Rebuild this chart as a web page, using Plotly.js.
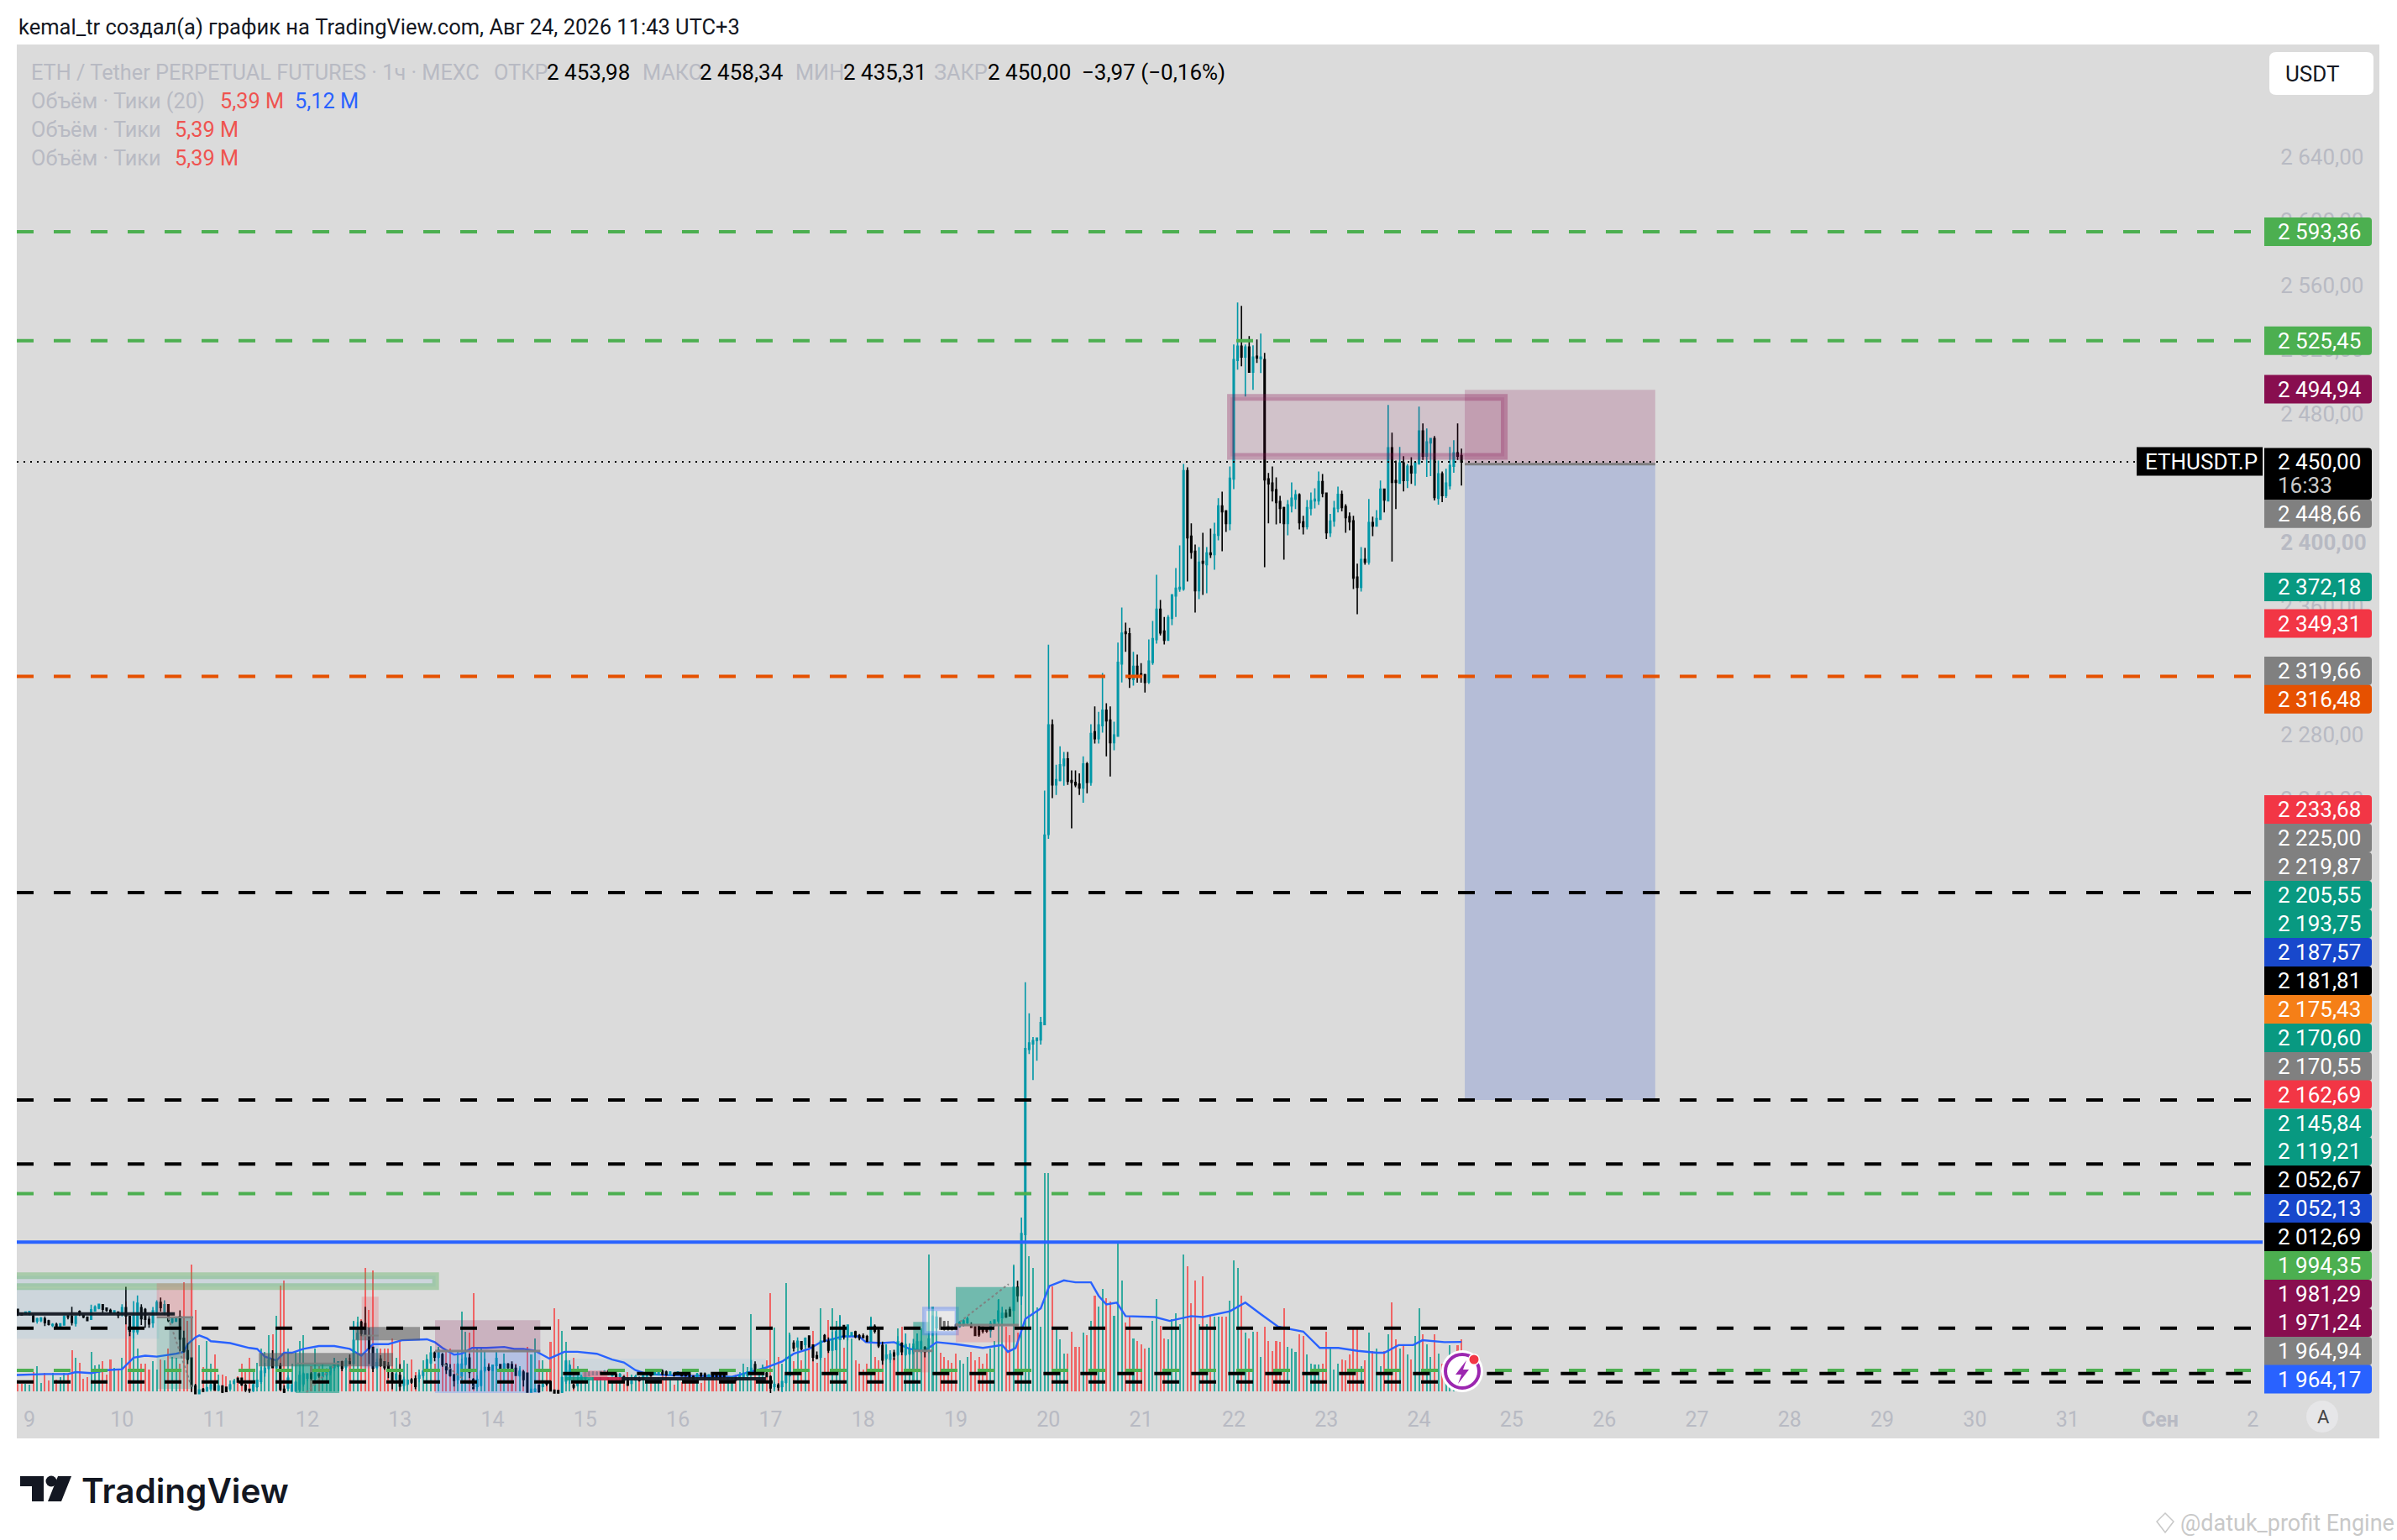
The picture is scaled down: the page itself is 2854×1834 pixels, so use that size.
<!DOCTYPE html>
<html><head><meta charset="utf-8">
<script src="https://cdn.plot.ly/plotly-3.0.1.min.js"></script>
<style>html,body{margin:0;padding:0;background:#fff}#c{width:2854px;height:1834px}</style>
</head><body><div id="c"></div>
<script>
// hourly candles, first one is Aug 8 21:00; day numbers on the x axis (Aug 9 = 9, Sep 1 = 32)
const firstHour = -3;
const opens = [1922.3,1919.9,1919.2,1919.2,1918.1,1915,1915.3,1916.4,1915,1912.2,
1912.9,1911.5,1912.5,1918.1,1917.8,1913.6,1920.9,1918.5,1917.4,1916,
1921.3,1923,1925.1,1923,1921.6,1919.9,1920.6,1919.2,1923.3,1917.8,
1908.3,1908.3,1923.3,1922.1,1916,1913.9,1920.9,1926.5,1920.9,1925.1,
1914.3,1915,1917.8,1904.2,1896.5,1891.9,1874.5,1869.8,1872.4,1871.4,
1872.8,1877.6,1872,1874.5,1873.8,1872.8,1876.2,1879.4,1879.4,1874.9,
1872.4,1871.7,1874.2,1877.3,1882.9,1885.5,1891.2,1886,1887.2,1872.4,
1873.3,1871.5,1871.5,1872.4,1875.9,1879.4,1882,1879.4,1882,1880.3,
1881.5,1882.9,1886,1886.7,1889.5,1886.4,1889.5,1888.5,1903.8,1914.3,
1913.4,1905.9,1898.6,1886.4,1891.2,1889.5,1887.2,1882.5,1879,1881.1,
1875,1875.9,1878.3,1879,1879.4,1881.1,1885.5,1889,1895.1,1892.5,
1894.2,1888.1,1885,1881.5,1878.5,1881.1,1888.1,1891.9,1878.5,1874.2,
1875,1884.3,1886,1884.3,1887.2,1887.8,1884.6,1888.1,1887.8,1885.5,
1881.1,1883.2,1882.5,1870.7,1871,1875,1874.2,1877.3,1877.3,1871.9,
1871.7,1870.7,1877.6,1880.3,1875,1875,1877.6,1879.4,1881.1,1881.5,
1881.5,1882.2,1882.4,1883.7,1881.1,1881.8,1880.4,1880.3,1879.4,1876.2,
1878.3,1879.4,1879.7,1880.6,1882.2,1881.5,1881.8,1883.7,1883.2,1881.5,
1882.5,1881.5,1882.5,1882.5,1881.8,1880.4,1880.4,1882.4,1882,1879.7,
1881.5,1881.8,1881.8,1881.8,1878.9,1879,1879.7,1879.4,1880.3,1881.1,
1882,1887.8,1882.5,1882.5,1882.5,1880.3,1874.2,1875,1874.2,1876.8,
1881.1,1901.2,1898.9,1902.1,1900.3,1905.6,1900,1893.3,1892.5,1905.9,
1902.4,1896.8,1897.2,1903.5,1912.2,1905.9,1905.9,1908.3,1905.9,1905.6,
1905.2,1902.4,1911.7,1909,1899.8,1891.9,1891.2,1895,1894.2,1901.1,
1894.2,1894.7,1895.9,1897.7,1896.8,1898.5,1898.5,1909,1910.8,1916.9,
1914.6,1911.6,1911.1,1912.5,1911.6,1912.5,1913.9,1912.5,1911.4,1911.6,
1911.1,1910.8,1909,1912.5,1915.1,1916.9,1919.8,1922.1,1921.6,1936,
1930.8,1968.9,2084.1,2087.6,2089.6,2090.1,2099.6,2218,2286.2,2248.9,
2251.6,2260.9,2265.1,2251.6,2250.4,2249.4,2246.9,2261.9,2250.4,2281.9,
2277.6,2285.7,2295.4,2289.2,2275.1,2279.2,2324.2,2344.1,2343,2314.5,
2322.7,2318,2317.5,2313,2325.1,2339.4,2358.2,2344.6,2338.9,2352.5,
2366.6,2370.8,2370.8,2444.6,2403.8,2394.4,2369.8,2388.1,2386,2393.3,
2392.3,2404.3,2422.6,2419.5,2411.7,2439.4,2513.2,2522.1,2515.3,2521.6,
2505.9,2515.8,2514.3,2513.7,2439.4,2436.8,2432.6,2425.3,2421.6,2411.7,
2422.6,2426.8,2429.5,2412.7,2409.7,2421.1,2425.8,2425.8,2437.8,2430.5,
2405.9,2413.2,2421.1,2429.8,2422.2,2415.9,2413.3,2378.2,2371.9,2389.2,
2387.6,2412.2,2410.1,2414.3,2433.1,2425.8,2458.8,2438.4,2436.8,2449.4,
2438.4,2447.3,2443.1,2448.8,2469.3,2453.6,2461.9,2464.5,2427.4,2442.6,
2429,2435.2,2447.3,2455.6,2453.98];
const highs = [1922.3,1920.2,1920.9,1921.3,1919.2,1917.1,1917.4,1917.8,1915.7,1913.6,
1913.9,1913.2,1918.5,1918.8,1923.9,1918.5,1921.6,1918.8,1917.8,1925.1,
1924.8,1925.8,1925.4,1923.3,1922.7,1921.3,1920.6,1925.4,1936.3,1918.1,
1927.4,1930.9,1925.4,1923,1918.1,1923.7,1927.9,1929.6,1927.9,1925.4,
1916.9,1917.4,1921.6,1909,1901.2,1891.9,1875.9,1872.4,1873.3,1874.2,
1875.9,1878,1875,1874.5,1874.2,1875.9,1878,1879.7,1879.7,1875.9,
1872.8,1875.9,1878.5,1886.4,1889,1894.2,1896.8,1891.6,1889,1875,
1881.1,1875.9,1877.6,1883.7,1882.9,1882.5,1883.2,1885.5,1882.5,1884.6,
1885.5,1886.4,1891.9,1889.9,1890.2,1891.6,1894.2,1914.3,1914.3,1915.2,
1923.9,1910.8,1898.6,1891.6,1893.7,1889.9,1889.5,1884.6,1882.9,1888.1,
1880.3,1878.5,1879.4,1881.1,1882.9,1884.6,1891.6,1899.4,1896,1897.7,
1895.1,1889,1888.1,1882,1889,1891.6,1897.2,1894.7,1879.4,1881.1,
1884.6,1891.6,1888.1,1887.8,1895.1,1888.1,1889,1888.8,1889.9,1887.8,
1885.5,1884.3,1882.9,1872.4,1873.3,1875,1875.9,1877.3,1877.6,1872.1,
1872.1,1880.3,1890.7,1888.1,1875.9,1877.6,1881.1,1883.7,1883.7,1883.7,
1883.7,1883.7,1884.3,1884.9,1883.7,1882,1882,1880.8,1879.7,1879.4,
1881.1,1880.3,1882,1883.2,1882.5,1883.7,1883.7,1884.9,1884.1,1883.7,
1882.9,1883.7,1882.9,1882.9,1882.5,1881.1,1882.5,1882.9,1882.9,1881.8,
1882,1882.5,1882.9,1882.5,1880.3,1880.3,1879.9,1881.5,1882.9,1883.7,
1890.7,1889.9,1885,1887.2,1885,1881.1,1876.8,1876.2,1877.6,1892.5,
1906.4,1902.9,1904.7,1902.4,1904.7,1905.9,1900,1896,1902.9,1906.9,
1904.7,1908.2,1911.7,1918.1,1912.5,1912.9,1908.2,1909,1906.9,1907.3,
1906.3,1916.9,1912.9,1909.9,1902.1,1900.3,1896.8,1897.1,1905.5,1901.7,
1907.3,1901.1,1903.8,1907.3,1902.9,1899.4,1909,1918.6,1921.2,1916.9,
1915.1,1915.1,1911.6,1913.4,1915.1,1916,1917.7,1914.2,1911.6,1912.5,
1911.6,1910.8,1915.1,1916,1928.2,1923.8,1922.1,1923.8,1949.1,1940,
1979.4,2125.9,2106.6,2091.9,2091.4,2104.4,2245.3,2336.2,2289.7,2261.4,
2272.9,2269.4,2269.4,2257.9,2257.9,2256.1,2266.6,2263.1,2286.7,2297.7,
2294.4,2318.5,2299.7,2297.7,2288.2,2337.5,2359.3,2349.9,2346.7,2331.7,
2330,2324.7,2318,2339.5,2350.9,2379.7,2364,2353.5,2354.6,2367.7,
2383.9,2398,2448.8,2446.7,2411.7,2398.6,2397,2405.9,2397,2408.5,
2412.2,2427.4,2431.5,2420,2447.2,2523.2,2549.3,2547.2,2523.2,2528.4,
2522.6,2526.3,2530,2517.9,2443.1,2447.2,2440.4,2428.9,2422.1,2426.3,
2437.3,2432.6,2430.5,2416.4,2426.3,2431,2433.6,2444.1,2442.5,2431,
2417.6,2425.8,2434.7,2432.1,2423.7,2418.5,2416.4,2386.6,2397,2396.5,
2426.9,2415.9,2420,2438.4,2433.1,2485.5,2468.2,2450.9,2459.3,2453.6,
2448.8,2453,2449.4,2484.4,2474,2470.8,2465,2466.1,2450.9,2444.1,
2445.7,2459.3,2463.5,2474,2458.34];
const lows = [1918.1,1918.5,1918.9,1918.5,1914.3,1913.4,1914.3,1911.8,1912.2,1911.1,
1911.5,1911.5,1912.2,1916,1912.2,1911.5,1918.1,1916.7,1915,1915.7,
1921.3,1922.3,1920.2,1920.9,1919.5,1919.5,1916.7,1917.8,1912.9,1905.6,
1904.2,1906.4,1912.5,1910.8,1910.8,1910.8,1918.6,1920.9,1918.6,1914.3,
1913.4,1914.3,1895.1,1895.4,1888.1,1870.7,1869.8,1869.8,1870.7,1871,
1872.4,1871.5,1871.5,1870.1,1870.7,1872.4,1875.9,1876.6,1874.5,1870.7,
1870.3,1870.7,1873.3,1875.9,1880.3,1884.6,1886,1884.6,1871.5,1870.1,
1872.4,1870.7,1870.7,1870.7,1874.2,1877.6,1878,1877.6,1879.7,1879.4,
1880.3,1881.1,1883.7,1885.5,1883.7,1884.6,1888.1,1888.1,1903.8,1905.6,
1905.9,1888.1,1883.2,1885,1886.4,1884.6,1879.4,1872.4,1877.6,1871.5,
1872.4,1875,1875.9,1872.4,1876.8,1879.4,1884.6,1888.1,1889.9,1891.6,
1886.4,1882,1880.3,1874.2,1875.9,1878.5,1887.2,1879.4,1872.4,1872.4,
1874.2,1882.9,1883.7,1883.7,1884.6,1884.6,1884.6,1884.6,1884.6,1881.1,
1880.3,1874.2,1870.7,1870.7,1871,1870.3,1874.2,1874.5,1871.2,1870.1,
1870.1,1870.1,1875.9,1875.9,1872.4,1874.2,1875.9,1878.5,1880.3,1881.1,
1881.1,1882,1882,1881.5,1880.3,1879.7,1880.3,1877.6,1874.9,1875.9,
1877.6,1877.3,1879.4,1880.3,1880.3,1881.1,1881.1,1881.1,1880.8,1881.1,
1880.3,1881.1,1880.3,1880.3,1879.4,1878.5,1880.3,1879.7,1879.4,1879.4,
1879.7,1879.4,1879.7,1879.7,1878.5,1879,1877.6,1879,1879.7,1880.3,
1881.1,1882,1882,1882,1880.3,1870.1,1872.4,1871.5,1870.7,1875.9,
1880.3,1896,1898.6,1896.8,1898.9,1898.6,1889.9,1891.2,1890.7,1901.7,
1895.1,1896.8,1896.8,1903,1903.5,1902.9,1905.6,1904.2,1902.9,1904.2,
1901.7,1902.4,1907.3,1898.2,1887.8,1890.7,1888.9,1890.7,1893.3,1893.6,
1893.3,1893.6,1894.2,1896.8,1895,1892.4,1895,1905.5,1909,1909.9,
1909,1909,1909,1909.9,1910.8,1911.6,1912.5,1910.8,1905.5,1905.2,
1907.3,1907.6,1904.6,1911.6,1914.2,1916.3,1916.9,1917.7,1921.2,1926.8,
1925,1964.4,2081.3,2065,2077.1,2087.1,2099.6,2215.3,2240.6,2242.6,
2251.1,2248.4,2248.9,2221.8,2247.4,2242.6,2237.8,2243.6,2248.4,2274.6,
2274.6,2281.4,2266.6,2254.1,2270.4,2279.2,2312.7,2331.7,2309.2,2310.7,
2312.5,2312.5,2306.4,2311.7,2323.7,2336.8,2342,2336.3,2338.9,2348.3,
2353.5,2369.2,2369.8,2375.5,2389.7,2356.2,2364.5,2367.2,2368.2,2390.2,
2382.9,2401.2,2394.4,2406.4,2407.5,2433.1,2507.5,2509.5,2490.7,2505.9,
2494.9,2511.6,2505.4,2384.4,2411.7,2425.3,2411.1,2411.7,2389.1,2404.3,
2418.5,2420.6,2408,2404.8,2408,2416.7,2421.1,2423.2,2428,2401.9,
2403.3,2409.7,2418.5,2419.2,2405.9,2407.5,2370.9,2355.2,2369.3,2386,
2386,2403.8,2410.1,2414.3,2418.5,2425.8,2388,2420.6,2436.8,2431.6,
2433.7,2436.3,2435.2,2448.8,2451.3,2440.6,2441.2,2426,2423.4,2424.9,
2427.6,2432.8,2443.3,2451.3,2435.31];
const closes = [1919.9,1918.8,1920.6,1920.9,1914.6,1916.4,1916.7,1913.9,1912.9,1912.9,
1911.8,1913.2,1917.8,1917.4,1914,1918.1,1919.5,1917.4,1915.3,1922,
1923.7,1925.4,1922.3,1921.6,1920.2,1921.3,1918.5,1923.3,1918.1,1908.7,
1918.5,1926.1,1916.4,1916,1913.2,1921.3,1926.5,1923.4,1925.1,1915.2,
1916.4,1916.7,1903.8,1896,1891.2,1874.5,1869.8,1872,1871.2,1873.3,
1875.2,1872,1874.5,1870.7,1871,1875.2,1877.6,1876.9,1875.2,1872.1,
1871.7,1875.2,1878,1883.7,1885.5,1890.7,1886,1890.7,1872.4,1870.7,
1879.4,1875,1876.8,1881.1,1882,1882,1879.4,1882.9,1880.8,1882.9,
1883.7,1885.5,1888.1,1889.5,1885.5,1889.9,1888.5,1902.9,1907.3,1907.3,
1906.2,1897.7,1885.5,1889,1887.2,1886,1883.7,1877.3,1881.8,1874.5,
1878.5,1878,1876.9,1874.2,1881.1,1883.7,1890.7,1895.1,1892.5,1896.8,
1887.8,1884.6,1881.1,1878,1887.8,1888.1,1891.9,1882.9,1872.9,1878.5,
1883.7,1886,1884.6,1887.2,1891.6,1884.6,1888.1,1886,1885,1881.1,
1883.7,1878.5,1870.7,1872.4,1872.4,1871,1875.5,1875.9,1871.5,1870.1,
1870.1,1879.7,1889.9,1887.2,1873.8,1876.8,1880.3,1882.9,1883.2,1883.2,
1882.9,1883.4,1883.7,1882.5,1882.9,1880.1,1881.7,1878,1875,1878.5,
1880.3,1878,1881.5,1882.5,1880.8,1882.9,1883.2,1881.8,1881.5,1883.2,
1881.1,1883.2,1880.8,1880.8,1880.1,1879,1881.8,1880.8,1880.3,1881.5,
1880.4,1880.4,1880.3,1880.4,1879.9,1880,1878.3,1880.8,1882,1883.2,
1885.5,1882.5,1884.3,1884.6,1880.3,1873.3,1875.5,1873.8,1877.3,1881.1,
1893.3,1898.2,1902.4,1897.7,1904.2,1898.9,1892.5,1891.9,1902.4,1902.4,
1896.8,1903.5,1908.2,1911.1,1905.2,1912.5,1907.8,1905.2,1904.5,1904.7,
1902.4,1911.7,1908.7,1899.5,1890.7,1893.7,1894.2,1893.3,1902,1895.9,
1900.3,1897.7,1898.9,1902,1902,1895.9,1903.8,1917.7,1917.4,1909.9,
1909.9,1909.9,1909.9,1910.8,1914.2,1915.1,1916.3,1911.1,1905.9,1906.4,
1908.7,1908.7,1913.4,1915.6,1921.2,1919.8,1917.4,1918.1,1936,1930.8,
1969.4,2084.6,2088.1,2089.6,2091.1,2100.9,2217.6,2286.2,2248.9,2252.1,
2261.4,2264.9,2251.1,2250.4,2248.9,2246.9,2261.9,2250.4,2280.9,2277.6,
2286.2,2295.4,2288.7,2275.1,2279.9,2325.2,2343.4,2343.1,2315,2322.7,
2317.5,2317,2312.7,2326,2339.9,2358.2,2343.6,2338.9,2353,2367.2,
2371.3,2371.9,2444.6,2402.8,2393.8,2369.8,2387.6,2387,2393.3,2392.3,
2404.8,2422.6,2419,2411.7,2439.9,2513.7,2522.1,2515.3,2521.6,2505.9,
2515.3,2514.8,2515.3,2438.9,2436.3,2432.1,2424.7,2421.1,2411.7,2423.2,
2427.4,2429.5,2412.2,2409.7,2421.6,2425.8,2426.8,2437.8,2430.5,2405.9,
2413.2,2421.1,2429.8,2421.6,2415.3,2412.7,2377.7,2371.9,2389.2,2387.6,
2412.2,2410.1,2414.8,2433.1,2426.3,2458.8,2437.3,2437.3,2449.4,2438.4,
2447.3,2443.1,2449.4,2469.3,2453.6,2462.5,2464.5,2427.9,2442.6,2429,
2436.8,2447.8,2455.6,2453.6,2450];
// tick volume, millions
const volumes = [.8,.8,.8,.7,2,2.6,.9,1.9,1.1,1.9,
1.2,1.5,1.9,1.8,4.3,3.5,3,1.3,1.5,4.1,
2.7,2.8,3.1,1.7,3.3,2.4,2.3,3.5,9.3,7.3,
6.2,4.4,2.9,2.9,2.3,3.1,2.3,3.3,3.2,4.4,
3.6,3.5,2.9,11.3,7.3,13.1,8.4,4.8,2.5,5.2,
2.9,3.8,1.7,1.7,1.6,1.1,1.3,1.6,2.9,2.3,
3.5,2.3,3,4.4,4.1,5.8,5.9,7.8,11,11.5,
4.4,2.9,4.2,5.2,5.8,1.7,2.6,4.4,2.6,2.9,
2.3,2.6,3.5,3,2.9,3.5,3.5,7.3,7.7,7.5,
12.8,8.4,12.5,4.4,4.4,4.4,4.4,5.5,3.5,5.2,
3.2,2.9,3.3,2,2.3,3.2,3.8,4.6,2.9,4.6,
3.8,4.1,4.4,2.9,4.1,8.3,6.2,6.1,10.2,4.6,
4.6,4.2,3,2.8,4.1,2.3,3.9,2,2.6,2.9,
2.6,2.3,4.6,3.8,5.5,3.2,3.2,2,5.1,8.6,
7.5,6.3,5.1,3.2,3.5,2.6,1.7,1.3,1.3,1.5,
1.2,1.5,1.2,1.5,1.2,1.3,1.9,1.7,2,1.7,
1.7,1.2,1.6,1.2,1.6,1.3,1.5,1.9,1.7,1.3,
.7,1.2,1,2,1.7,1.7,1.9,.9,1.7,1.2,
1.6,1.3,1.7,1.7,1.3,1,1.7,2,2.9,2.5,
8,2.3,2,2.8,3.2,10.2,6.6,3.6,2.9,11.2,
6.1,3.1,4.8,3.2,5.2,4.6,6.3,3,8.6,3.5,
7.4,8.6,7.3,7.9,4.5,6.7,5.5,3.2,2.9,2.3,
2.9,7.7,3.6,3.2,4.8,4.9,4,3.5,6.5,6.7,
4.5,4,5,6,6.5,4.1,14.2,8.8,7,4,
3.6,3.2,3,3.9,3.2,2.9,3.6,4.1,3.2,3.6,
2.9,3.9,4.4,5.2,9.6,7.5,6.7,5.8,13.1,6.1,
9.9,16.4,14,12.8,8.7,6.7,22.6,22.6,10.9,6.7,
5.4,3.9,3.9,6.2,4.6,4.6,6.1,5.8,7.3,9.9,
8.8,10.6,9.7,9.3,7.8,15.3,11.5,7.1,7.7,5.5,
5.2,4.9,4.4,4.5,7.3,9.6,6.8,5.5,5.4,7.5,
8.1,7,14.2,13,9.1,11.5,7,11.9,7,7.8,
7.7,7.7,7.7,7.7,9.4,13.6,12.8,9.9,6.1,5.5,
6.2,6.2,3.6,6.7,5.2,4.2,5.2,5.1,8.6,4.6,
4.4,4.1,5.9,5.7,3.8,2.9,2.8,2.8,2.9,6.2,
4.5,2.3,2.9,3.3,3.2,3.8,6.4,6.4,2.6,3.2,
6.1,4.2,4.4,2.6,4.2,5.9,9.2,5.4,4.4,4.9,
3.8,3.3,5.7,8.6,5.9,4.9,3.6,5.9,3.9,2.9,
3,4.8,2.9,4.8,5.39];
// volume moving average (20), read at these hours after Aug 9 00:00
const maHours = [-3.5,4,10,12,16,20,24,25.5,27,30,33,38,40,41,43,44,46,47,52,57,59,61,64,66,68,71,75,79,83,86,89,93,96.5,103,105,107,110,
112,114.7,118.4,123,125.6,128,131,134.7,138.6,142,147,151,154,157,160,164,170,175,182,191,195,198,202,205,210.8,214.9,216.7,220.7,224,
228,232,235,240,247,252,253.5,255.5,258,262,264.2,268,271,275,277,279,281.7,284,291.6,295.4,301,304,311,315,319,323.5,330,334.3,339.1,344.1,349.1,351,354.7,358.5,360.9,366.6,371];
const maValues = [1.7,1.8,1.8,2,1.9,2.2,2.3,2.9,3.5,3.7,3.6,3.9,4.1,4.9,5.6,5.8,5.5,5.2,5,4.5,4.4,3.6,3.2,4,4,4.4,4.7,4.7,4.4,3.7,4.9,4.9,5.3,5.4,5.1,4.5,3.8,
3.9,4.5,4.5,4.6,4.4,4.4,4.2,3.4,4.1,4.1,3.9,3.3,3,2.2,1.8,1.7,1.6,1.6,1.5,2.5,3.1,3.9,4.4,5.1,5.7,5.7,5.1,5,5.1,
4.4,4.2,5.1,4.9,4.5,4.8,4.1,4.5,7.5,8.6,10.9,11.5,11.3,11.3,9.9,9,9.2,7.8,7.7,7.3,7.8,7.7,8.3,9.2,8,6.7,6.2,4.5,4.5,4.2,4,4,4.8,4.8,5.3,5.1,5.12];
// horizontal levels
const levelPrices = [2593.36,2525.45,2316.48,2181.81,2052.67,2012.69,1994.35,1910.5,1884.2,1877.1];
const levelColors = ['#4CAF50','#4CAF50','#E65100','#000000','#000000','#000000','#4CAF50','#000000','#4CAF50','#000000'];
const lastPrice = 2450;
const blueLevel = 1964.17;
const lateLevel = 1882.3;
// price axis
const priceTicks = [2640,2600,2560,2520,2480,2440,2400,2360,2320,2280,2240];
const priceTickText = ['2 640,00','2 600,00','2 560,00','2 520,00','2 480,00','2 440,00','<b>2 400,00</b>','2 360,00','2 320,00','2 280,00','2 240,00'];
const dayTicks = [9,10,11,12,13,14,15,16,17,18,19,20,21,22,23,24,25,26,27,28,29,30,31,32,33];
const dayTickText = ['9','10','11','12','13','14','15','16','17','18','19','20','21','22','23','24','25','26','27','28','29','30','31','<b>Сен</b>','2'];
// labels stacked on the price scale
const stackText = ['2 593,36','2 525,45','2 494,94','2 448,66','2 372,18','2 349,31','2 319,66','2 316,48','2 233,68','2 225,00','2 219,87','2 205,55','2 193,75','2 187,57','2 181,81','2 175,43','2 170,60','2 170,55','2 162,69','2 145,84','2 119,21','2 052,67','2 052,13','2 012,69','1 994,35','1 981,29','1 971,24','1 964,94','1 964,17'];
const stackColor = ['#4CAF50','#4CAF50','#880E4F','#808080','#089981','#F23645','#808080','#E65100','#F23645','#808080','#808080','#089981','#089981','#1848CC','#000000','#F57F17','#089981','#808080','#F23645','#089981','#089981','#000000','#1848CC','#000000','#4CAF50','#880E4F','#880E4F','#808080','#2962FF'];

// ------------------------------------------------------------
const L=20,R=2694,T=53,B=1666;
const fx=x=>(x-L)/(R-L), fy=y=>(B-y)/(B-T);
const FONT='Roboto, "Noto Sans", sans-serif';
const candleX=opens.map((_,i)=>9+(firstHour+i)/24);
const barColor=opens.map((o,i)=>closes[i]>=o?'rgba(38,166,154,0.92)':'rgba(242,90,90,0.92)');

const traces=[
 {type:'bar',x:candleX,y:volumes,yaxis:'y',xaxis:'x',width:0.45/24,marker:{color:barColor,line:{width:0}},hoverinfo:'skip'},
 {type:'scatter',mode:'lines',x:maHours.map(h=>9+h/24),y:maValues,yaxis:'y',line:{color:'#2962FF',width:2.4},hoverinfo:'skip'},
 {type:'candlestick',x:candleX,open:opens,high:highs,low:lows,close:closes,yaxis:'y2',xaxis:'x',whiskerwidth:0,
  increasing:{line:{color:'#0097A7',width:1.6},fillcolor:'#0097A7'},
  decreasing:{line:{color:'#000000',width:1.6},fillcolor:'#000000'},hoverinfo:'skip'}
];

const box=(d0,d1,p0,p1,fill,line)=>({type:'rect',xref:'x',yref:'y2',x0:d0,x1:d1,y0:p0,y1:p1,fillcolor:fill,line:line||{width:0}});
const hl=(d0,d1,p,color,w,dash)=>({type:'line',xref:'x',yref:'y2',x0:d0,x1:d1,y0:p,y1:p,line:{color:color,width:w,dash:dash||'solid'}});
const seg=(d0,p0,d1,p1,color,w,dash)=>({type:'line',xref:'x',yref:'y2',x0:d0,x1:d1,y0:p0,y1:p1,line:{color:color,width:w,dash:dash||'solid'}});
const pbox=(x0,x1,y0,y1,fill,layer)=>({type:'rect',xref:'paper',yref:'paper',x0:fx(x0),x1:fx(x1),y0:fy(y0),y1:fy(y1),fillcolor:fill,line:{width:0},layer:layer||'above'});
const pcirc=(cx,cy,r,fill,line)=>({type:'circle',xref:'paper',yref:'paper',x0:fx(cx-r),x1:fx(cx+r),y0:fy(cy-r),y1:fy(cy+r),fillcolor:fill,line:line||{width:0}});
const ppath=(pts,fill)=>({type:'path',xref:'paper',yref:'paper',path:'M'+pts.map(p=>fx(p[0])+','+fy(p[1])).join('L')+'Z',fillcolor:fill,line:{width:0}});
const rbox=(x0,x1,y0,y1,r,fill)=>({type:'path',xref:'paper',yref:'paper',fillcolor:fill,line:{width:0},
 path:`M${fx(x0)},${fy(y0)}L${fx(x1-r)},${fy(y0)}Q${fx(x1)},${fy(y0)} ${fx(x1)},${fy(y0+r)}L${fx(x1)},${fy(y1-r)}Q${fx(x1)},${fy(y1)} ${fx(x1-r)},${fy(y1)}L${fx(x0)},${fy(y1)}Z`});

const MAR='136,14,79', TEAL='8,153,129', RED='242,54,69', BLU='41,98,255', GREY='rgba(90,90,90,0.55)', GL='rgba(128,128,128,0.95)';
const shapes=[
 pbox(20,2833,53,1713,'#DBDBDB','below'),
 // left cluster
 box(8.7,10.4,1904,1935.4,'rgba(33,150,243,0.07)'),
 box(8.7,13.385,1936.4,1943.2,'rgba(33,150,243,0.08)',{color:'rgba(76,175,80,0.35)',width:8}),
 box(10.375,10.768,1917.6,1938.5,`rgba(${RED},0.2)`),
 box(10.375,10.768,1872.7,1917.6,`rgba(${TEAL},0.2)`),
 box(10.51,10.768,1891.6,1917.1,'rgba(50,80,90,0.25)'),
 hl(10.375,10.768,1917.3,GL,2.5),
 seg(10.5,1917,10.75,1874,GL,2,'dot'),
 hl(8.7,10.57,1919.4,'rgba(20,25,35,0.95)',4),
 box(11.475,12.926,1886.7,1895.1,GREY),
 box(11.874,12.345,1870.1,1889,`rgba(${TEAL},0.55)`),
 hl(11.874,12.345,1888.6,GL,2),
 seg(11.99,1870.6,12.31,1888.3,GL,2,'dot'),
 box(12.587,12.769,1910.8,1930.1,`rgba(${RED},0.2)`),
 box(12.587,12.769,1885.6,1910.8,`rgba(${BLU},0.15)`),
 box(12.518,13.216,1902.9,1911.3,GREY),
 hl(12.587,12.769,1905.9,GL,2),
 box(13.379,14.515,1896.1,1915.5,`rgba(${MAR},0.2)`),
 box(13.379,14.515,1870.1,1896.1,`rgba(${BLU},0.22)`),
 hl(13.379,14.515,1896.2,GL,3),
 seg(13.48,1888,13.79,1874,GL,2,'dot'),
 box(14.8,16.95,1879,1891.6,'rgba(33,150,243,0.07)'),
 box(14.78,15.03,1879.4,1884.5,'rgba(0,180,200,0.4)'),
 box(14.97,15.24,1880,1884,'rgba(242,100,120,0.6)'),
 hl(14.78,15.09,1879,`rgba(${TEAL},0.8)`,4),
 hl(15.09,15.39,1879,'rgba(200,30,70,0.9)',4),
 hl(15.39,16.95,1879,'rgba(20,25,35,0.95)',4),
 box(18.54,18.716,1896.1,1914.4,`rgba(${TEAL},0.5)`),
 box(18.54,18.716,1883,1896.1,`rgba(${RED},0.2)`),
 hl(18.54,18.75,1896.4,GL,3),
 box(18.66,19.01,1907.4,1922.5,'rgba(255,255,255,0.4)',{color:`rgba(${BLU},0.3)`,width:5}),
 box(19,19.68,1912.5,1936.1,`rgba(${TEAL},0.5)`),
 box(19,19.68,1901.7,1912.5,`rgba(${RED},0.2)`),
 hl(19,19.68,1912.5,GL,3),
 seg(19,1912.5,19.57,1938,GL,2,'dot'),
 // upper zone and position
 box(21.965,24.92,2453.5,2490.2,`rgba(${MAR},0.12)`,{color:`rgba(${MAR},0.3)`,width:8}),
 box(24.494,26.55,2448.66,2494.94,`rgba(${MAR},0.2)`),
 box(24.494,26.55,2052.67,2448.66,'rgba(30,70,200,0.2)'),
 hl(24.494,26.55,2448.66,'rgba(120,120,120,0.9)',3)
];
levelPrices.forEach((p,i)=>shapes.push({type:'line',xref:'paper',yref:'y2',x0:0,x1:1,y0:p,y1:p,line:{color:levelColors[i],width:4,dash:'20px,24px'}}));
shapes.push({type:'line',xref:'paper',yref:'y2',x0:0,x1:1,y0:blueLevel,y1:blueLevel,line:{color:'#2962FF',width:4}});
shapes.push({type:'line',xref:'paper',yref:'y2',x0:0,x1:1,y0:lastPrice,y1:lastPrice,line:{color:'#000000',width:2,dash:'2px,6px'}});
shapes.push({type:'line',xref:'x',yref:'y2',x0:14.76,x1:33.106,y0:lateLevel,y1:lateLevel,line:{color:'#000000',width:4,dash:'20px,24px'}});

// price-scale stack
const stackY=[276,405.7,463.6,611.8,699,742.6,799,832.8,964,998,1032,1066,1100,1134,1168,1202,1236,1270,1303.5,1337.5,1371,1405,1439,1473,1507,1541,1575,1609,1642.6];
stackText.forEach((t,i)=>shapes.push(rbox(2696,2824,stackY[i]-17,stackY[i]+17,4,stackColor[i])));
shapes.push(rbox(2696,2824,533.5,595,4,'#000000'));
shapes.push(rbox(2544,2694,532.5,566.5,0.01,'#000000'));
// USDT button, auto button
shapes.push({type:'path',xref:'paper',yref:'paper',fillcolor:'#FFFFFF',line:{width:0},
 path:`M${fx(2710)},${fy(62)}L${fx(2818)},${fy(62)}Q${fx(2826)},${fy(62)} ${fx(2826)},${fy(70)}L${fx(2826)},${fy(105)}Q${fx(2826)},${fy(113)} ${fx(2818)},${fy(113)}L${fx(2710)},${fy(113)}Q${fx(2702)},${fy(113)} ${fx(2702)},${fy(105)}L${fx(2702)},${fy(70)}Q${fx(2702)},${fy(62)} ${fx(2710)},${fy(62)}Z`});
shapes.push(pcirc(2765,1687,19,'#E6E6E8'));
// bolt badge
shapes.push(pcirc(1741,1633,25,'#FFFFFF'));
shapes.push(pcirc(1741,1633,20,'#FFFFFF',{color:'#9C27B0',width:4}));
shapes.push(ppath([[1746,1620],[1733,1637],[1740,1637],[1736,1648],[1749,1631],[1742,1631]],'#9C27B0'));
shapes.push(pcirc(1755,1619,7,'#FFFFFF'));
shapes.push(pcirc(1755,1619,5.5,'#F23645'));
// TradingView logo
shapes.push(ppath([[24,1758],[52,1758],[52,1788],[38,1788],[38,1770],[24,1770]],'#131722'));
shapes.push(pcirc(61,1764,6.5,'#131722'));
shapes.push(ppath([[69,1758],[85,1758],[73,1788],[57,1788]],'#131722'));
// watermark diamond
shapes.push({type:'path',xref:'paper',yref:'paper',fillcolor:'rgba(0,0,0,0)',line:{color:'#C8C8C8',width:1.5},
 path:`M${fx(2578)},${fy(1802)}L${fx(2588)},${fy(1812)}L${fx(2578)},${fy(1825)}L${fx(2568)},${fy(1812)}Z`});

const txt=(text,x,y,size,color,extra)=>Object.assign({xref:'paper',yref:'paper',x:fx(x),y:fy(y),text:text,xanchor:'left',yanchor:'middle',showarrow:false,font:{family:FONT,size:size,color:color}},extra||{});
const LG='#B8BAC3', FS=26, LS=25.3, VR='#EF5350';
const ann=[
 txt('kemal_tr создал(а) график на TradingView.com, Авг 24, 2026 11:43 UTC+3',20,32,25.5,'#131722'),
 txt('ETH / Tether PERPETUAL FUTURES · 1ч · MEXC',35,86,LS,LG),
 txt('ОТКР',586,86,LS,LG),txt('2 453,98',649,86,FS,'#000'),
 txt('МАКС',763,86,LS,LG),txt('2 458,34',831,86,FS,'#000'),
 txt('МИН',945,86,LS,LG),txt('2 435,31',1002,86,FS,'#000'),
 txt('ЗАКР',1110,86,LS,LG),txt('2 450,00',1174,86,FS,'#000'),
 txt('−3,97 (−0,16%)',1286,86,FS,'#000'),
 txt('Объём · Тики (20)',35,120.5,LS,LG),txt('5,39 M',260,120.5,LS,VR),txt('5,12 M',349,120.5,LS,'#2962FF'),
 txt('Объём · Тики',35,155,LS,LG),txt('5,39 M',206,155,LS,VR),
 txt('Объём · Тики',35,189,LS,LG),txt('5,39 M',206,189,LS,VR),
 txt('USDT',2719,87.5,FS,'#131722'),
 txt('ETHUSDT.P',2552,549.5,FS,'#FFFFFF'),
 txt('2 450,00',2710,549.5,FS,'#FFFFFF'),
 txt('16:33',2710,578,FS,'#C9C9C9'),
 txt('A',2757,1687,22,'#444444'),
 txt('TradingView',95,1775,40.5,'#131722',{font:{family:'Inter, Roboto, sans-serif',size:40.5,color:'#131722',weight:600}}),
 txt('@datuk_profit Engine',2594,1814,27,'#C8C8C8')
];
stackText.forEach((t,i)=>ann.push(txt(t,2710,stackY[i],FS,'#FFFFFF')));

const layout={
 width:2854,height:1834,autosize:false,showlegend:false,hovermode:false,bargap:0,
 boxgap:0.55,boxmode:'overlay',
 paper_bgcolor:'#FFFFFF',plot_bgcolor:'#DBDBDB',
 margin:{l:L,r:2854-R,t:T,b:1834-B,pad:0},
 xaxis:{range:[8.864,33.106],type:'linear',tickmode:'array',tickvals:dayTicks,ticktext:dayTickText,showgrid:false,zeroline:false,showline:false,
  ticks:'outside',ticklen:2,tickcolor:'rgba(0,0,0,0)',tickfont:{family:FONT,size:25,color:LG},rangeslider:{visible:false},tickangle:0},
 yaxis:{range:[-0.78,139.5],visible:false,fixedrange:true},
 yaxis2:{overlaying:'y',side:'right',range:[1866.45,2709.97],tickmode:'array',tickvals:priceTicks,ticktext:priceTickText,showgrid:false,zeroline:false,showline:false,
  ticks:'outside',ticklen:15,tickcolor:'rgba(0,0,0,0)',tickfont:{family:FONT,size:FS,color:LG}},
 shapes:shapes,annotations:ann
};
Plotly.newPlot('c',traces,layout,{staticPlot:true,displayModeBar:false});
</script></body></html>
